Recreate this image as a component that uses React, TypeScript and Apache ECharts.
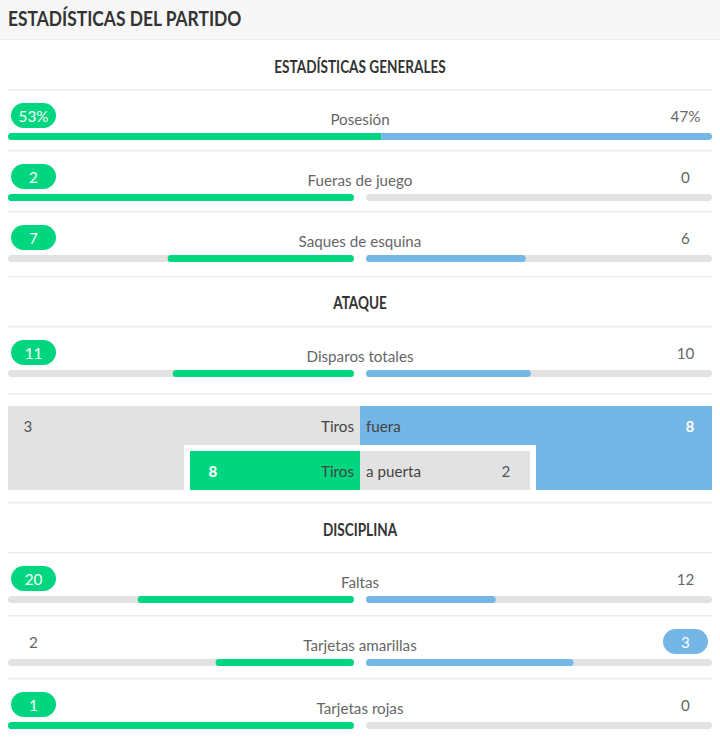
import React, { useEffect, useRef } from 'react';
import * as echarts from 'echarts';

// ---- data ----
const pageTitle = 'ESTADÍSTICAS DEL PARTIDO';
const sectionTitles = ['ESTADÍSTICAS GENERALES', 'ATAQUE', 'DISCIPLINA'];
const statLabels = ['Posesión', 'Fueras de juego', 'Saques de esquina', 'Disparos totales', 'Faltas', 'Tarjetas amarillas', 'Tarjetas rojas'];
const homeValues = [53, 2, 7, 11, 20, 2, 1];
const awayValues = [47, 0, 6, 10, 12, 3, 0];
const valueUnits = ['%', '', '', '', '', '', ''];
const shotsTitle = 'Tiros';
const shotLabels = ['fuera', 'a puerta'];
const homeShots = [3, 8];
const awayShots = [8, 2];

// ---- layout / style ----
const GREEN = '#00d680';
const BLUE = '#74b6e5';
const TRACK = '#e2e2e2';
const SEP = '#ebebeb';
const FONT = "Lato, sans-serif";
const rowTops = [90, 151, 212, 327, 553, 616, 679];
const sectionY = [66, 302, 529];
const separators = [90, 151, 212, 277, 327, 394, 503, 553, 616, 679];
const L = 8;
const R = 712;
const MID_GAP = 6;
const TITLE_SX = 0.87;
const SECTION_SX = 0.8;
const LABEL_SX = 0.95;

function txt(text: string, x: number, y: number, font: string, fill: string, align: string, sx = 1) {
  return { type: 'text', z: 10, x, y, scaleX: sx, style: { text, x: 0, y: 0, align, verticalAlign: 'middle', font, fill } };
}

function buildOption() {
  const grid: any[] = [];
  const xAxis: any[] = [];
  const yAxis: any[] = [];
  const series: any[] = [];
  const graphic: any[] = [];

  const addGrid = (left: number, width: number, top: number, height: number, max: number, inverse: boolean) => {
    const idx = grid.length;
    grid.push({ left, width, top, height });
    xAxis.push({ gridIndex: idx, type: 'value', min: 0, max, inverse, show: false });
    yAxis.push({ gridIndex: idx, type: 'category', data: [''], show: false });
    return idx;
  };

  // header band
  graphic.push({ type: 'rect', z: 0, shape: { x: 0, y: 0, width: 720, height: 39 }, style: { fill: '#f7f7f7' } });
  graphic.push({ type: 'rect', z: 0, shape: { x: 0, y: 39, width: 720, height: 1 }, style: { fill: '#ececec' } });
  graphic.push(txt(pageTitle, 8, 19, `bold 20px ${FONT}`, '#333333', 'left', TITLE_SX));

  sectionTitles.forEach((t, i) => {
    graphic.push(txt(t, 360, sectionY[i], `bold 17px ${FONT}`, '#333333', 'center', SECTION_SX));
  });
  separators.forEach((y) => {
    graphic.push({ type: 'rect', z: 0, shape: { x: L, y: y - 1, width: R - L, height: 1.5 }, style: { fill: SEP } });
  });

  statLabels.forEach((label, i) => {
    const S = rowTops[i];
    const h = homeValues[i];
    const a = awayValues[i];
    const u = valueUnits[i];
    const pillTop = S + 13;
    const barTop = S + 43;
    const textY = pillTop + 12.5;
    const total = h + a || 1;

    graphic.push(txt(label, 360, textY + 3, `16px ${FONT}`, '#666666', 'center', LABEL_SX));

    if (h > a) {
      graphic.push({ type: 'rect', z: 5, shape: { x: 11, y: pillTop, width: 45, height: 25, r: 12.5 }, style: { fill: GREEN } });
      graphic.push(txt(`${h}${u}`, 33.5, textY, `16px ${FONT}`, '#ffffff', 'center', LABEL_SX));
    } else {
      graphic.push(txt(`${h}${u}`, 33.5, textY, `16px ${FONT}`, '#666666', 'center', LABEL_SX));
    }
    if (a > h) {
      graphic.push({ type: 'rect', z: 5, shape: { x: 663, y: pillTop, width: 45, height: 25, r: 12.5 }, style: { fill: BLUE } });
      graphic.push(txt(`${a}${u}`, 685.5, textY, `16px ${FONT}`, '#ffffff', 'center', LABEL_SX));
    } else {
      graphic.push(txt(`${a}${u}`, 685.5, textY, `16px ${FONT}`, '#666666', 'center', LABEL_SX));
    }

    if (u === '%') {
      const gi = addGrid(L, R - L, barTop, 7, total, false);
      series.push({ type: 'bar', xAxisIndex: gi, yAxisIndex: gi, stack: 'p' + i, data: [h], barWidth: 7, itemStyle: { color: GREEN, borderRadius: [4, 0, 0, 4] }, silent: true });
      series.push({ type: 'bar', xAxisIndex: gi, yAxisIndex: gi, stack: 'p' + i, data: [a], barWidth: 7, itemStyle: { color: BLUE, borderRadius: [0, 4, 4, 0] }, silent: true });
    } else {
      const half = (R - L - 2 * MID_GAP) / 2;
      const gl = addGrid(L, half, barTop, 7, total, true);
      series.push({ type: 'bar', xAxisIndex: gl, yAxisIndex: gl, data: [h], barWidth: 7, showBackground: true, backgroundStyle: { color: TRACK, borderRadius: 4 }, itemStyle: { color: GREEN, borderRadius: 4 }, silent: true });
      const gr = addGrid(R - half, half, barTop, 7, total, false);
      series.push({ type: 'bar', xAxisIndex: gr, yAxisIndex: gr, data: [a], barWidth: 7, showBackground: true, backgroundStyle: { color: TRACK, borderRadius: 4 }, itemStyle: { color: BLUE, borderRadius: 4 }, silent: true });
    }
  });

  // shots block
  const outerTop = 406, outerH = 84;
  const go = addGrid(L, R - L, outerTop, outerH, 2, false);
  series.push({ type: 'bar', xAxisIndex: go, yAxisIndex: go, stack: 'so', data: [1], barWidth: outerH, z: 2, itemStyle: { color: homeShots[0] > awayShots[0] ? GREEN : TRACK }, silent: true });
  series.push({ type: 'bar', xAxisIndex: go, yAxisIndex: go, stack: 'so', data: [1], barWidth: outerH, z: 2, itemStyle: { color: awayShots[0] > homeShots[0] ? BLUE : TRACK }, silent: true });
  graphic.push({ type: 'rect', z: 3, shape: { x: 184, y: 445, width: 352, height: 45 }, style: { fill: '#ffffff' } });
  const gi = addGrid(190, 340, 451, 39, 2, false);
  series.push({ type: 'bar', xAxisIndex: gi, yAxisIndex: gi, stack: 'si', data: [1], barWidth: 39, z: 4, itemStyle: { color: homeShots[1] > awayShots[1] ? GREEN : TRACK }, silent: true });
  series.push({ type: 'bar', xAxisIndex: gi, yAxisIndex: gi, stack: 'si', data: [1], barWidth: 39, z: 4, itemStyle: { color: awayShots[1] > homeShots[1] ? BLUE : TRACK }, silent: true });

  const shotRowsY = [426, 471];
  const homeX = [28, 213];
  const awayX = [690, 506];
  shotLabels.forEach((lab, k) => {
    const y = shotRowsY[k];
    const hw = homeShots[k] > awayShots[k];
    const aw = awayShots[k] > homeShots[k];
    graphic.push(txt(`${homeShots[k]}`, homeX[k], y, `${hw ? 'bold ' : ''}16px ${FONT}`, hw ? '#ffffff' : '#555555', 'center', LABEL_SX));
    graphic.push(txt(shotsTitle, 354, y, `16px ${FONT}`, '#444444', 'right', LABEL_SX));
    graphic.push(txt(lab, 366, y, `16px ${FONT}`, '#444444', 'left', LABEL_SX));
    graphic.push(txt(`${awayShots[k]}`, awayX[k], y, `${aw ? 'bold ' : ''}16px ${FONT}`, aw ? '#ffffff' : '#555555', 'center', LABEL_SX));
  });

  return { animation: false, backgroundColor: '#ffffff', grid, xAxis, yAxis, series, graphic };
}

export default function App() {
  const ref = useRef<HTMLDivElement>(null);
  useEffect(() => {
    if (!ref.current) return;
    const chart = echarts.init(ref.current, undefined, { renderer: 'svg' });
    chart.setOption(buildOption() as any);
    return () => chart.dispose();
  }, []);
  return <div ref={ref} style={{ position: 'absolute', left: 0, top: 0, width: 720, height: 740 }} />;
}
